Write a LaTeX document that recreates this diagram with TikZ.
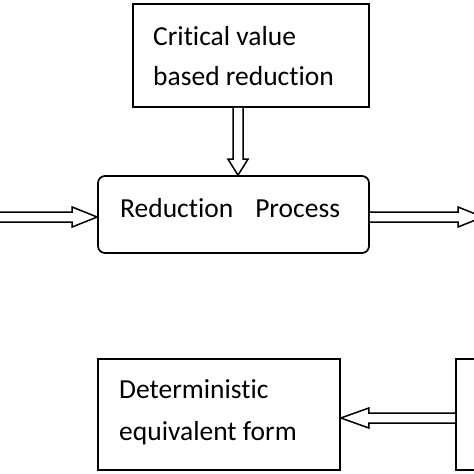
\documentclass[tikz,border=0pt]{standalone}
\usepackage{fontspec}
\setmainfont[Ligatures={NoCommon}]{Carlito}
\usetikzlibrary{calc}
\begin{document}
\begin{tikzpicture}[x=1pt,y=-1pt,
  box/.style={draw, line width=1.7pt, inner sep=0pt},
  txt/.style={font=\fontsize{27.5}{40}\selectfont, anchor=base west, inner sep=0pt},
  harrow/.style={draw, line width=1.5pt, fill=white, line join=miter}]
\useasboundingbox (0,0) rectangle (474,474);
\clip (0,0) rectangle (474,474);
% boxes
\node[box, minimum width=236pt, minimum height=103pt] (top) at (251,55.5) {};
\node[box, rounded corners=7pt, minimum width=271pt, minimum height=77pt] (red) at (233.5,214.5) {};
\node[box, minimum width=242pt, minimum height=111pt] (det) at (219,414.5) {};
\node[box, minimum width=64pt, minimum height=111pt] (rb) at (488,414.5) {};
% texts
\node[txt] (t1) at (153,45) {Critical value};
\node[txt] (t2) at (153,85) {based reduction};
\node[txt] (t3) at (120,217) {Reduction\hspace{0.8em}Process};
\node[txt] (t4) at (119,398) {Deterministic};
\node[txt] (t5) at (119,440) {equivalent form};
% vertical arrow
\coordinate (vs) at ([xshift=-13pt]top.south);
\coordinate (ve) at (vs |- red.north);
\draw[harrow] ($(vs)+(-5,0)$) -- ($(ve)+(-5,-16)$) -- ($(ve)+(-10,-16)$) -- (ve)
  -- ($(ve)+(10,-16)$) -- ($(ve)+(5,-16)$) -- ($(vs)+(5,0)$);
% left arrow
\coordinate (ls) at (-3,217);
\coordinate (le) at (ls -| red.west);
\draw[harrow] ($(ls)+(0,-5)$) -- ($(le)+(-25,-5)$) -- ($(le)+(-25,-10)$) -- (le)
  -- ($(le)+(-25,10)$) -- ($(le)+(-25,5)$) -- ($(ls)+(0,5)$);
% right arrow
\coordinate (rs) at (red.east |- ls);
\coordinate (re) at (483,217);
\draw[harrow] ($(rs)+(0,-5)$) -- ($(re)+(-25,-5)$) -- ($(re)+(-25,-10)$) -- (re)
  -- ($(re)+(-25,10)$) -- ($(re)+(-25,5)$) -- ($(rs)+(0,5)$);
% bottom arrow
\coordinate (bs) at (rb.west |- 0,418);
\coordinate (be) at (det.east |- bs);
\draw[harrow] ($(bs)+(0,-5)$) -- ($(be)+(28,-5)$) -- ($(be)+(28,-10)$) -- (be)
  -- ($(be)+(28,10)$) -- ($(be)+(28,5)$) -- ($(bs)+(0,5)$);
\end{tikzpicture}
\end{document}
